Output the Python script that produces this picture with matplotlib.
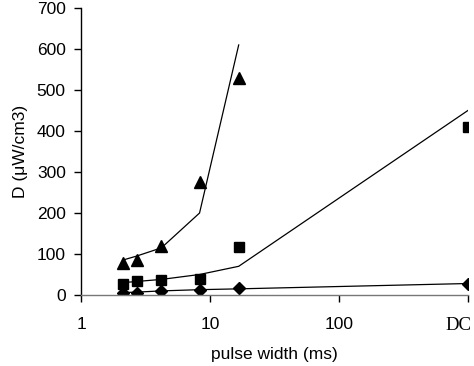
import matplotlib
matplotlib.use("Agg")
import matplotlib.pyplot as plt
from matplotlib.ticker import FixedLocator, NullLocator
from matplotlib.transforms import ScaledTranslation

# pulse widths (ms); DC plotted at 1000
pw = [2.1, 2.7, 4.2, 8.3, 16.7]
pw_dc = [2.1, 2.7, 4.2, 8.3, 16.7, 1000]

# measured points
tri_meas = [78, 85, 120, 275, 530]
sq_meas = [28, 33, 37, 38, 118, 410]
dia_meas = [5, 5, 10, 13, 16, 27]

# model curves
tri_model = [85, 95, 115, 200, 610]
sq_model = [30, 33, 38, 50, 70, 450]
dia_model = [6, 7, 10, 13, 15, 28]

xticks = [1, 10, 100, 1000]
xticklabels = ["1", "10", "100", "DC"]

plt.rcParams['font.family'] = ['Liberation Sans', 'DejaVu Sans']

fig = plt.figure(figsize=(4.74, 3.66), dpi=100)
ax = fig.add_axes([0.171, 0.194, 0.816, 0.784])

ax.plot(pw, tri_model, color='black', lw=0.9)
ax.plot(pw_dc, sq_model, color='black', lw=0.9)
ax.plot(pw_dc, dia_model, color='black', lw=0.9)

ax.plot(pw, tri_meas, '^', color='black', ms=9, ls='none')
ax.plot(pw_dc, sq_meas, 's', color='black', ms=7.5, ls='none')
ax.plot(pw_dc, dia_meas, 'D', color='black', ms=6.5, ls='none')

ax.set_xscale('log')
ax.set_xlim(1, 1000)
ax.set_ylim(0, 700)
ax.xaxis.set_major_locator(FixedLocator(xticks))
ax.xaxis.set_minor_locator(NullLocator())
ax.set_xticklabels(xticklabels)
ax.set_yticks(range(0, 701, 100))

for sp in ['top', 'right']:
    ax.spines[sp].set_visible(False)
ax.spines['left'].set_linewidth(1.0)
ax.spines['bottom'].set_color('#777777')
ax.spines['bottom'].set_linewidth(1.0)

ax.tick_params(axis='both', direction='out', length=5, width=1, labelsize=12.5, pad=6)
ax.tick_params(axis='x', pad=11)
for lab in ax.get_xticklabels():
    if lab.get_text() == "DC":
        lab.set_fontfamily(['Liberation Serif', 'DejaVu Serif'])
        lab.set_fontsize(13.5)
        lab.set_transform(lab.get_transform() + ScaledTranslation(-0.09, 0, fig.dpi_scale_trans))

ax.set_xlabel("pulse width (ms)", fontsize=12.5, labelpad=9)
ax.set_ylabel("D (\u03bcW/cm3)", fontsize=12.5, labelpad=6)

fig.savefig("out.png", dpi=100)
